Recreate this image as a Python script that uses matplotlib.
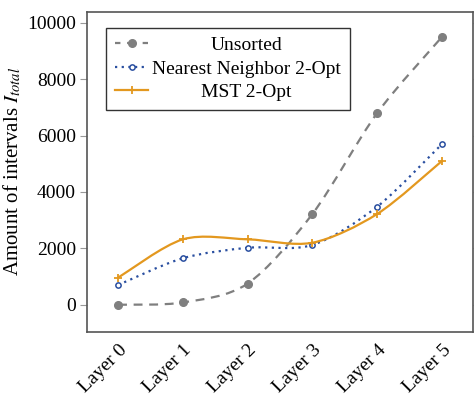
import numpy as np
import matplotlib as mpl
mpl.use('Agg')
import matplotlib.pyplot as plt
from matplotlib.path import Path
from matplotlib.patches import PathPatch
from matplotlib.lines import Line2D

plt.rcParams['font.family'] = ['Liberation Serif', 'DejaVu Serif']
plt.rcParams['mathtext.fontset'] = 'stix'

# data
layers = ['Layer 0', 'Layer 1', 'Layer 2', 'Layer 3', 'Layer 4', 'Layer 5']
unsorted = [0, 80, 750, 3220, 6800, 9500]
nearest = [700, 1650, 2020, 2120, 3480, 5700]
mst = [960, 2320, 2320, 2200, 3220, 5100]

gray = '#7f7f7f'
blue = '#2a4fa0'
orange = '#e3981f'


def smooth_path(xs, ys, k=0.9):
    # bezier through the points, tangent from the neighbours (like pgfplots "smooth")
    pts = np.column_stack([xs, ys]).astype(float)
    n = len(pts)
    verts = [pts[0]]
    codes = [Path.MOVETO]
    for i in range(n - 1):
        p0 = pts[max(i - 1, 0)]
        p1 = pts[i]
        p2 = pts[i + 1]
        p3 = pts[min(i + 2, n - 1)]
        c1 = p1 + (p2 - p0) / 6.0 * k
        c2 = p2 - (p3 - p1) / 6.0 * k
        verts += [c1, c2, p2]
        codes += [Path.CURVE4] * 3
    return Path(verts, codes)


fig = plt.figure(figsize=(4.74, 3.95), dpi=100)
ax = fig.add_axes([0.1835, 0.16, 0.8145, 0.81])

x = np.arange(len(layers))

series = [
    (unsorted, 'Unsorted', gray, (0, (4, 3)), (1.56, (4, 3)),
     dict(marker='o', ms=5.5, mfc=gray, mec=gray)),
    (nearest, 'Nearest Neighbor 2-Opt', blue, (0, (1, 2)), (0, (1, 2)),
     dict(marker='o', ms=3.8, mfc='white', mec=blue, mew=1.1)),
    (mst, 'MST 2-Opt', orange, '-', '-',
     dict(marker='+', ms=6, mfc=orange, mec=orange, mew=1.3)),
]

handles = []
for vals, lab, col, ls, leg_ls, mk in series:
    patch = PathPatch(smooth_path(x, vals), facecolor='none', edgecolor=col,
                      lw=1.6, linestyle=ls, zorder=2)
    ax.add_patch(patch)
    ax.plot(x, vals, linestyle='none', zorder=3, **mk)
    handles.append(Line2D([], [], color=col, lw=1.6, linestyle=leg_ls, **mk))

ax.set_xlim(-0.48, 5.48)
ax.set_ylim(-960, 10390)
ax.set_xticks(x)
ax.set_xticklabels(layers, rotation=45, ha='right', rotation_mode='anchor')
ax.set_yticks([0, 2000, 4000, 6000, 8000, 10000])
ax.tick_params(axis='x', length=0, labelsize=14, pad=7)
ax.tick_params(axis='y', length=5, color='#999999', labelsize=14, direction='out', pad=3)
ax.tick_params(axis='y', which='major', right=True)
for sp in ax.spines.values():
    sp.set_color('#555555')
    sp.set_linewidth(1.2)

ax.set_ylabel('Amount of intervals $I_{total}$', fontsize=15)
ax.yaxis.set_label_coords(-0.165, 0.5)

leg = ax.legend(handles=handles, labels=[s[1] for s in series], loc='upper left',
                bbox_to_anchor=(0.05, 0.95), fontsize=14, frameon=True,
                fancybox=False, edgecolor='#333333', framealpha=1,
                handlelength=1.7, handletextpad=0.2, borderpad=0.45,
                labelspacing=0.3, borderaxespad=0)
leg.get_frame().set_linewidth(1.0)

# center the legend labels like pgfplots does
fig.canvas.draw()
r = fig.canvas.get_renderer()
texts = leg.get_texts()
widths = [t.get_window_extent(r).width for t in texts]
wmax = max(widths)
for t, w in zip(texts, widths):
    t.set_x((wmax - w) / 2.0)

fig.savefig('out.png', dpi=100)
